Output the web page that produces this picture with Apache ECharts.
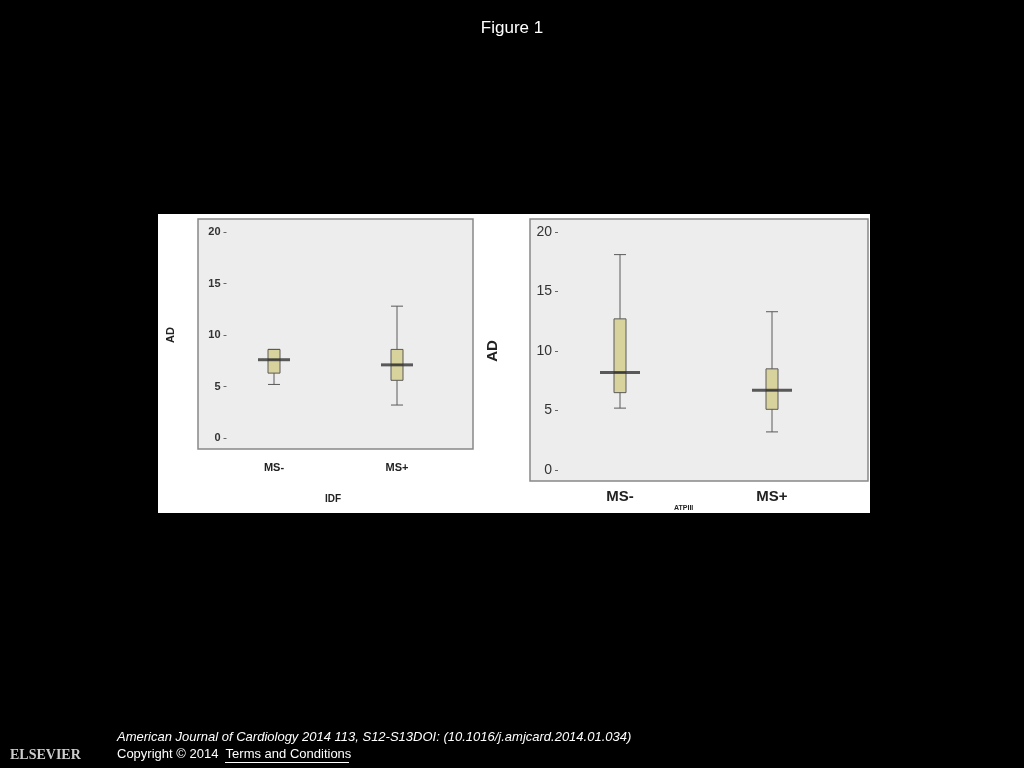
<!DOCTYPE html>
<html><head><meta charset="utf-8">
<script src="https://cdn.jsdelivr.net/npm/echarts@6/dist/echarts.min.js"></script>
<style>html,body{margin:0;background:#000}#c{width:1024px;height:768px}</style></head>
<body><div id="c"></div>
<script>
var categories = ['MS-', 'MS+'];
// [min, Q1, median, Q3, max]
var idfBoxes = [[5.2, 6.3, 7.6, 8.6, 8.6], [3.2, 5.6, 7.1, 8.6, 12.8]];
var atpBoxes = [[5.2, 6.5, 8.2, 12.7, 18.1], [3.2, 5.1, 6.7, 8.5, 13.3]];
var yTicks = [0, 5, 10, 15, 20];

var chart = echarts.init(document.getElementById('c'));
function med(b){return b.map(function(v,i){return [i, v[2]];});}
var boxStyle = {color:'#d8d29c', borderColor:'#5a5a5a', borderWidth:1};
chart.setOption({
  backgroundColor:'#000',
  animation:false,
  title:[{text:'Figure 1', left:'center', top:15, textStyle:{color:'#fff', fontSize:17, fontWeight:'normal', fontFamily:'Liberation Sans'}}],
  graphic:[
    {type:'rect', shape:{x:158,y:214,width:712,height:299}, style:{fill:'#fff'}, z:-10},
    {type:'rect', shape:{x:198,y:219,width:275,height:230}, style:{fill:'#ededed', stroke:'#888', lineWidth:1.5}, z:-9},
    {type:'rect', shape:{x:530,y:219,width:338,height:262}, style:{fill:'#ededed', stroke:'#888', lineWidth:1.5}, z:-9},
    {type:'text', left:325, top:494, style:{text:'IDF', fill:'#222', font:'bold 10px Liberation Sans'}},
    {type:'text', left:674, top:505, style:{text:'ATPIII', fill:'#222', font:'bold 7px Liberation Sans'}},
    {type:'text', left:117, top:731, style:{text:'American Journal of Cardiology 2014 113, S12-S13DOI: (10.1016/j.amjcard.2014.01.034)', fill:'#fff', font:'italic 13px Liberation Sans'}},
    {type:'text', left:117, top:748, style:{text:'Copyright © 2014 ', fill:'#fff', font:'13px Liberation Sans'}},
    {type:'text', left:222, top:748, style:{text:' Terms and Conditions', fill:'#fff', font:'13px Liberation Sans'}},
    {type:'rect', shape:{x:225,y:762,width:124,height:1}, style:{fill:'#fff'}},
    {type:'text', left:10, top:748, style:{text:'ELSEVIER', fill:'#ccc', font:'bold 14px Liberation Serif'}}
  ],
  grid:[
    {left:212.5, top:232, width:246, height:206},
    {left:544, top:232, width:304, height:238}
  ],
  xAxis:[
    {gridIndex:0, type:'category', data:categories, axisLine:{show:false}, axisTick:{show:false}, axisLabel:{margin:24, color:'#222', fontWeight:'bold', fontSize:11}},
    {gridIndex:1, type:'category', data:categories, axisLine:{show:false}, axisTick:{show:false}, axisLabel:{margin:19, color:'#222', fontWeight:'bold', fontSize:15}}
  ],
  yAxis:[
    {gridIndex:0, type:'value', min:yTicks[0], max:yTicks[4], interval:5, name:'AD', nameLocation:'middle', nameGap:50, nameTextStyle:{color:'#222', fontWeight:'bold', fontSize:11},
     axisLine:{show:false}, axisTick:{show:true, length:3, lineStyle:{color:'#666'}}, splitLine:{show:false}, axisLabel:{color:'#333', fontWeight:'bold', fontSize:11, margin:6}, offset:-14},
    {gridIndex:1, type:'value', min:yTicks[0], max:yTicks[4], interval:5, name:'AD', nameLocation:'middle', nameGap:58, nameTextStyle:{color:'#222', fontWeight:'bold', fontSize:15},
     axisLine:{show:false}, axisTick:{show:true, length:3, lineStyle:{color:'#666'}}, splitLine:{show:false}, axisLabel:{color:'#333', fontSize:14, margin:6}, offset:-14}
  ],
  series:[
    {type:'boxplot', xAxisIndex:0, yAxisIndex:0, data:idfBoxes, boxWidth:[12,12], itemStyle:boxStyle},
    {type:'boxplot', xAxisIndex:1, yAxisIndex:1, data:atpBoxes, boxWidth:[12,12], itemStyle:boxStyle},
    {type:'scatter', xAxisIndex:0, yAxisIndex:0, data:med(idfBoxes), symbol:'rect', symbolSize:[32,3], itemStyle:{color:'#333'}, z:5},
    {type:'scatter', xAxisIndex:1, yAxisIndex:1, data:med(atpBoxes), symbol:'rect', symbolSize:[40,3], itemStyle:{color:'#333'}, z:5}
  ]
});
</script></body></html>
